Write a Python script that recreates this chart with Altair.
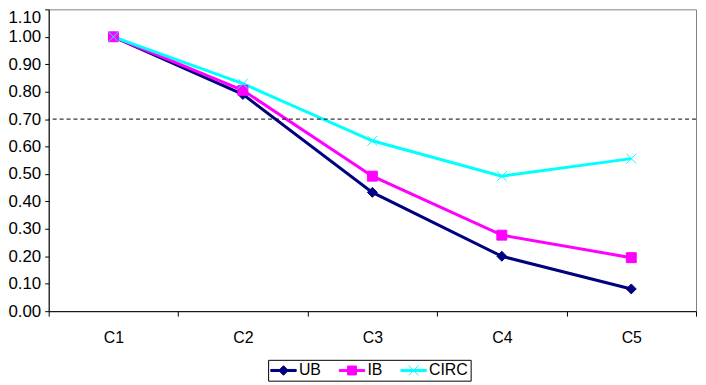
import altair as alt
import pandas as pd

categories = ["C1", "C2", "C3", "C4", "C5"]
series_names = ["UB", "IB", "CIRC"]
ub = [1.00, 0.790, 0.433, 0.200, 0.081]
ib = [1.00, 0.805, 0.492, 0.277, 0.195]
circ = [1.00, 0.829, 0.621, 0.492, 0.556]
threshold = [0.70]
y_ticks = [0.0, 0.1, 0.2, 0.3, 0.4, 0.5, 0.6, 0.7, 0.8, 0.9, 1.0, 1.1]
colors = ["#000080", "#FF00FF", "#00FFFF"]

point_paths = [
    "M0,-1L1,0L0,1L-1,0Z",
    "M-1,-1H1V1H-1Z",
    "M-1,-1L1,1M-1,1L1,-1",
]
legend_paths = [
    "M-1.6,-0.13H1.6V0.13H-1.6Z M0,-0.6L0.6,0L0,0.6L-0.6,0Z",
    "M-1.6,-0.13H1.6V0.13H-1.6Z M-0.56,-0.56H0.56V0.56H-0.56Z",
    "M-1.6,-0.13H1.6V0.13H-1.6Z M-0.62,-0.62L0.62,0.62M-0.62,0.62L0.62,-0.62",
]

rows = []
for name, vals in zip(series_names, [ub, ib, circ]):
    for c, v in zip(categories, vals):
        rows.append({"cat": c, "series": name, "value": v})
df = pd.DataFrame(rows)
thr_df = pd.DataFrame({"value": threshold})

FONT = "Liberation Sans"

x_axis = alt.Axis(
    title=None, tickBand="extent", labelAngle=0, labelFontSize=16,
    labelFont=FONT, labelColor="black", labelPadding=14, tickSize=5,
    tickColor="black", domainColor="black", grid=False,
)
y_axis = alt.Axis(
    title=None, values=y_ticks, format=".2f", labelFontSize=17,
    labelFont=FONT, labelColor="black", labelPadding=4, tickSize=4,
    tickColor="black", domainColor="black", grid=False, labelOverlap=False,
    labelOffset={"condition": {"test": "datum.value > 1.05", "value": 8}, "value": 0},
)
y_scale = alt.Scale(domain=[0, 1.1], nice=False, zero=True)

x_enc = alt.X(
    "cat:N", sort=categories,
    scale=alt.Scale(type="band", paddingInner=0, paddingOuter=0),
    axis=x_axis,
)
y_enc = alt.Y("value:Q", scale=y_scale, axis=y_axis)

color_scale = alt.Scale(domain=series_names, range=colors)

lines = alt.Chart(df).mark_line(strokeWidth=3).encode(
    x=x_enc, y=y_enc,
    color=alt.Color("series:N", scale=color_scale, legend=None),
)

rule = alt.Chart(thr_df).mark_rule(color="black", strokeWidth=1, strokeDash=[4, 3]).encode(
    y=y_enc
)

points = alt.Chart(df).mark_point(filled=True, size=100, strokeWidth=1, opacity=1).encode(
    x=x_enc, y=y_enc,
    fill=alt.Fill("series:N", scale=color_scale, legend=None),
    stroke=alt.Stroke("series:N", scale=color_scale, legend=None),
    shape=alt.Shape("series:N", scale=alt.Scale(domain=series_names, range=point_paths), legend=None),
)

leg = alt.Legend(
    title=None, orient="none", legendX=221, legendY=353, direction="horizontal",
    symbolSize=256, symbolStrokeWidth=1, symbolOffset=5, labelFontSize=16, labelFont=FONT,
    labelColor="black", strokeColor="black", fillColor="white", padding=2,
    columnPadding=15, labelOffset=7, symbolOpacity=1,
)
legend_layer = alt.Chart(df).transform_filter("false").mark_point(
    filled=True, size=256, strokeWidth=1, opacity=1
).encode(
    x=x_enc, y=y_enc,
    fill=alt.Fill("series:N", scale=color_scale, legend=leg),
    stroke=alt.Stroke("series:N", scale=color_scale, legend=leg),
    shape=alt.Shape("series:N", scale=alt.Scale(domain=series_names, range=legend_paths), legend=leg),
)

chart = alt.layer(lines, rule, points, legend_layer).resolve_scale(
    shape="independent", fill="independent", stroke="independent"
).properties(
    width=652, height=304,
    autosize=alt.AutoSizeParams(type="none"),
    padding={"left": 41, "top": 0, "right": 2, "bottom": 73},
).configure_view(stroke="#808080", strokeWidth=1)

chart.save("out.html", embed_options={"renderer": "svg", "actions": False})
